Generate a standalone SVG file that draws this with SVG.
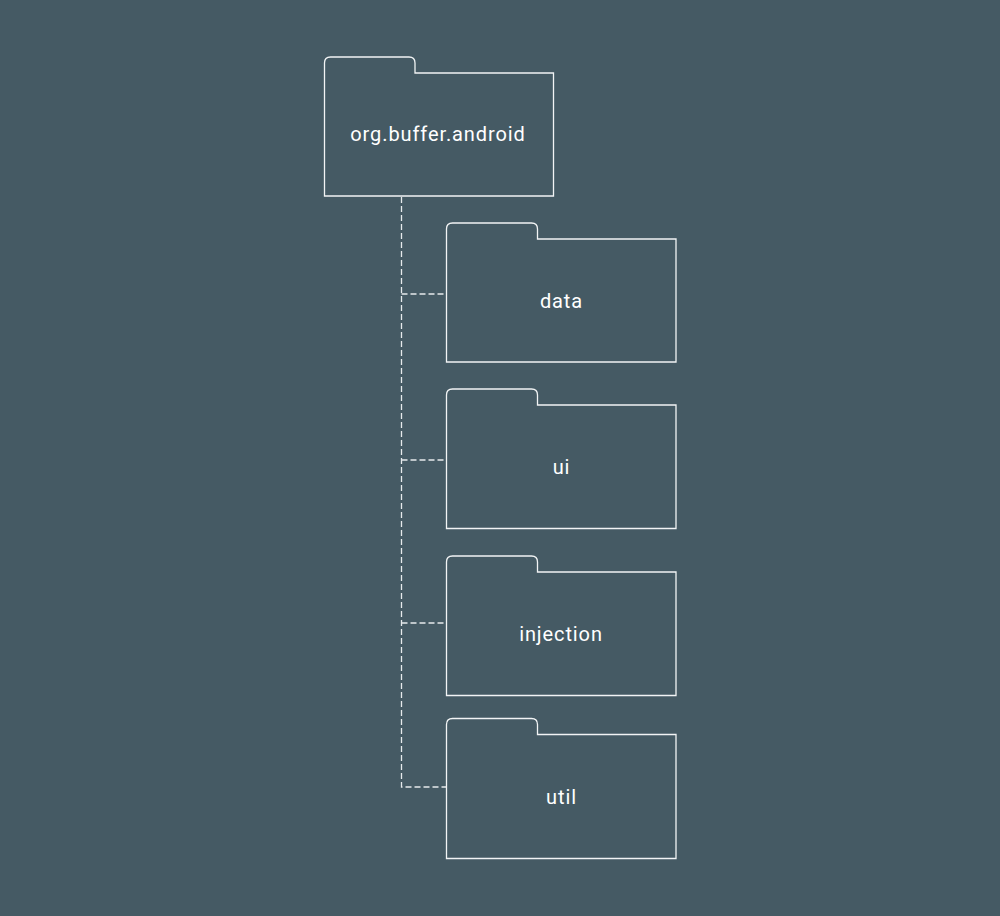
<svg xmlns="http://www.w3.org/2000/svg" width="1000" height="916" viewBox="0 0 1000 916">
<style>
.f{fill:none;stroke:#f2f4f5;stroke-width:1.3}
.c{fill:none;stroke:#e6eaec;stroke-width:1.3;stroke-dasharray:6,3}
.t{font-family:Roboto,"Liberation Sans",sans-serif;font-size:20px;letter-spacing:0.9px;fill:#ffffff;text-anchor:middle}
</style>
<rect width="1000" height="916" fill="#455a64"/>
<g id="connectors">
<path class="c" d="M401.5 197V787H446M401.5 294H446M401.5 460H446M401.5 623H446"/>
</g>
<g id="root">
<path class="f" d="M324.5 196V63Q324.5 57 330.5 57H409Q415 57 415 63V73H553.5V196Z"/>
<text class="t" x="438" y="141">org.buffer.android</text>
</g>
<g id="data">
<path class="f" d="M446.5 362V229Q446.5 223 452.5 223H531.5Q537.5 223 537.5 229V239H676V362Z"/>
<text class="t" x="561.5" y="308">data</text>
</g>
<g id="ui">
<path class="f" d="M446.5 528.5V395Q446.5 389 452.5 389H531.5Q537.5 389 537.5 395V405H676V528.5Z"/>
<text class="t" x="561.5" y="474">ui</text>
</g>
<g id="injection">
<path class="f" d="M446.5 695.5V562Q446.5 556 452.5 556H531.5Q537.5 556 537.5 562V572H676V695.5Z"/>
<text class="t" x="561" y="641">injection</text>
</g>
<g id="util">
<path class="f" d="M446.5 858.5V724.5Q446.5 718.5 452.5 718.5H531.5Q537.5 718.5 537.5 724.5V734.5H676V858.5Z"/>
<text class="t" x="561.5" y="804">util</text>
</g>
</svg>
